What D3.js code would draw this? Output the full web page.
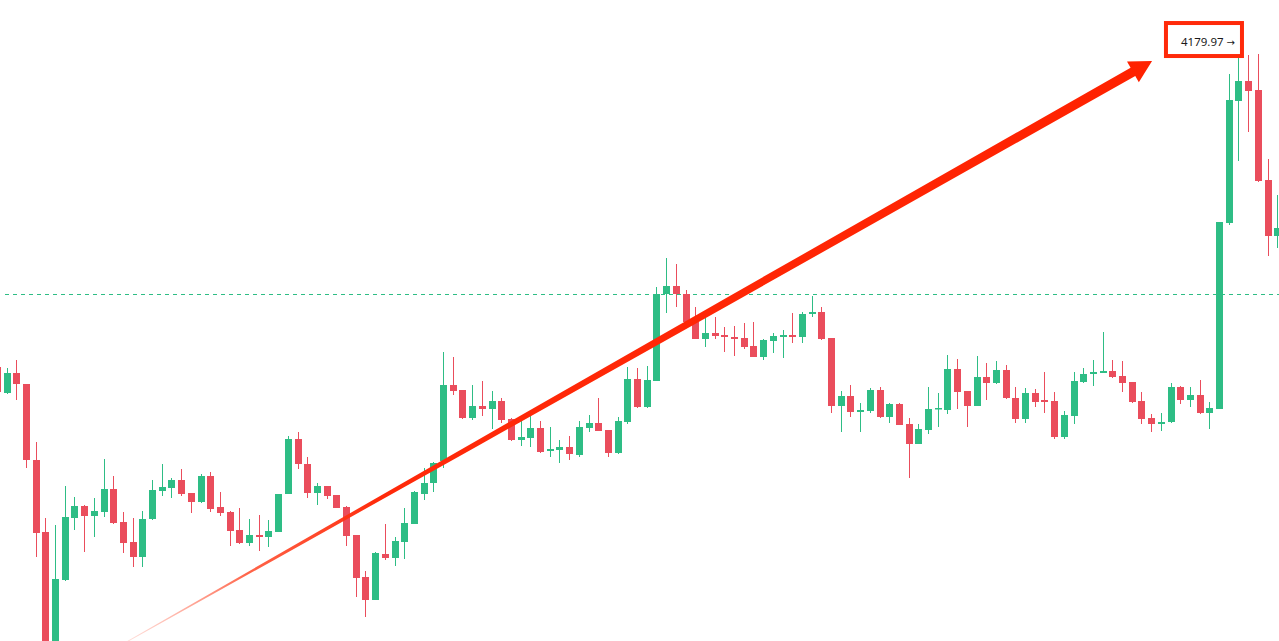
<!DOCTYPE html>
<head>
<meta charset="utf-8">
<script src="https://d3js.org/d3.v7.min.js"></script>
<style>
  body { margin: 0; background: #fff; }
</style>
</head>
<body>
<div id="chart"></div>

<script>
    // candle data, first candle is index -1 (partly off the left edge)
    var firstIndex = -1;
    var opens = [
        3855,3829,3849,3838,3762,3690,3577,3642,3704,3716,
        3706,3710,3733,3700,3680,3665,3703,3731,3734,3742,
        3729,3720,3746,3715,3710,3692,3679,3687,3685,3690,
        3728,3783,3758,3729,3736,3727,3715,3687,3645,3622,
        3668,3664,3680,3698,3728,3739,3761,3837,3832,3804,
        3816,3813,3821,3803,3782,3784,3794,3771,3772,3775,
        3767,3794,3799,3792,3769,3800,3843,3815,3841,3928,
        3936,3928,3900,3883,3889,3887,3885,3884,3876,3865,
        3881,3885,3887,3885,3908,3910,3884,3816,3826,3810,
        3811,3832,3805,3818,3798,3778,3792,3813,3812,3853,
        3831,3816,3845,3839,3852,3824,3803,3829,3822,3821,
        3785,3806,3840,3848,3849,3851,3846,3840,3821,3804,
        3798,3800,3835,3822,3827,3809,3813,3999,4121,4141,
        4132,4042,3986];
    var highs = [
        3857,3854,3862,3838,3780,3704,3697,3736,3725,3717,
        3724,3763,3746,3710,3704,3711,3742,3758,3744,3753,
        3729,3748,3750,3730,3711,3714,3703,3707,3702,3728,
        3786,3790,3765,3739,3736,3727,3716,3687,3651,3670,
        3698,3685,3714,3731,3754,3760,3870,3865,3832,3837,
        3841,3831,3824,3804,3802,3806,3801,3795,3782,3786,
        3801,3807,3824,3792,3805,3855,3854,3856,3935,3964,
        3958,3932,3915,3905,3905,3895,3896,3899,3900,3883,
        3889,3892,3909,3910,3926,3915,3884,3831,3837,3819,
        3834,3835,3819,3819,3804,3798,3835,3829,3867,3863,
        3831,3866,3859,3861,3857,3835,3834,3833,3850,3830,
        3811,3850,3854,3862,3890,3862,3861,3840,3830,3808,
        3809,3839,3836,3835,3842,3820,4000,4148,4166,4167,
        4168,4063,4027];
    var lows = [
        3828,3828,3822,3754,3665,3562,3562,3641,3692,3670,
        3685,3705,3698,3669,3655,3655,3702,3726,3724,3726,
        3709,3719,3710,3706,3676,3678,3676,3671,3675,3690,
        3728,3753,3724,3717,3723,3714,3676,3625,3605,3622,
        3662,3656,3663,3698,3722,3730,3754,3827,3803,3802,
        3806,3793,3799,3781,3776,3775,3769,3765,3759,3762,
        3765,3790,3791,3765,3768,3798,3814,3814,3841,3909,
        3915,3900,3883,3875,3883,3870,3866,3873,3865,3862,
        3869,3864,3879,3879,3905,3882,3809,3790,3805,3790,
        3809,3804,3799,3797,3744,3778,3788,3795,3808,3813,
        3795,3816,3822,3838,3823,3799,3799,3815,3809,3783,
        3783,3798,3839,3836,3849,3844,3830,3819,3798,3790,
        3791,3799,3818,3815,3808,3793,3813,3997,4061,4090,
        4040,3966,3974];
    var closes = [
        3830,3849,3838,3762,3689,3577,3643,3705,3716,3706,
        3711,3733,3699,3679,3665,3703,3732,3735,3742,3728,
        3720,3746,3713,3709,3691,3679,3687,3685,3691,3728,
        3783,3758,3729,3736,3726,3714,3686,3644,3622,3669,
        3664,3681,3699,3730,3739,3759,3837,3831,3804,3816,
        3813,3821,3802,3782,3785,3794,3770,3773,3775,3768,
        3795,3799,3791,3769,3801,3843,3815,3842,3928,3936,
        3928,3900,3883,3889,3886,3885,3883,3875,3865,3882,
        3886,3887,3885,3908,3910,3883,3816,3826,3810,3812,
        3832,3805,3818,3797,3778,3793,3813,3814,3853,3830,
        3816,3845,3839,3852,3824,3803,3829,3820,3820,3785,
        3807,3841,3848,3850,3851,3845,3839,3820,3803,3798,
        3800,3835,3822,3827,3809,3814,4000,4122,4141,4131,
        4041,3986,3994];

    var dashedLevel = 3928;
    var labelValue = 4179.97;
    var labelIndex = 123.45;
    // arrow annotation, in (candle index, price)
    var arrowFrom = {i: 12.0, p: 3578};
    var arrowTo = {i: 118.1, p: 4161};

    var upColor = "#2ebd85",
        downColor = "#ea4d5c",
        markColor = "#ff2a0a";

    var width = 1279, height = 641;

    var data = opens.map(function(o, k) {
        return {i: firstIndex + k, open: o, high: highs[k], low: lows[k], close: closes[k]};
    });

    var svg = d3.select("#chart")
      .append("svg")
        .attr("width", width)
        .attr("height", height)
        .style("display", "block");

    var x = d3.scaleLinear()
        .domain([-1, 131])
        .range([-3.2, 1277.2]);
    var y = d3.scaleLinear()
        .domain([3581, 4222])
        .range([height, 0]);

    var step = x(1) - x(0);
    var bodyW = Math.round(step * 0.72);

    // dashed price level
    svg.append("line")
        .attr("x1", 5).attr("x2", width)
        .attr("y1", Math.round(y(dashedLevel)) + 0.5)
        .attr("y2", Math.round(y(dashedLevel)) + 0.5)
        .attr("stroke", upColor)
        .attr("stroke-width", 1)
        .attr("stroke-dasharray", "4,4");

    var candle = svg.append("g").attr("id", "candles")
      .selectAll("g")
      .data(data)
      .enter()
      .append("g")
        .attr("fill", function(d) { return d.close >= d.open ? upColor : downColor; })
        .attr("stroke", function(d) { return d.close >= d.open ? upColor : downColor; });

    candle.append("line")
        .attr("x1", function(d) { return Math.round(x(d.i)) + 0.5; })
        .attr("x2", function(d) { return Math.round(x(d.i)) + 0.5; })
        .attr("y1", function(d) { return y(d.high); })
        .attr("y2", function(d) { return y(d.low); })
        .attr("stroke-width", 1);

    candle.append("rect")
        .attr("stroke", "none")
        .attr("x", function(d) { return Math.round(x(d.i)) + 0.5 - bodyW / 2; })
        .attr("width", bodyW)
        .attr("y", function(d) { return y(Math.max(d.open, d.close)); })
        .attr("height", function(d) { return Math.max(1.5, Math.abs(y(d.open) - y(d.close))); });

    // tapered arrow
    var tx = x(arrowFrom.i), ty = y(arrowFrom.p),
        px = x(arrowTo.i), py = y(arrowTo.p);
    var len = Math.hypot(px - tx, py - ty),
        ux = (px - tx) / len, uy = (py - ty) / len,
        nx = -uy, ny = ux;
    var headLen = 22, headHalf = 12;
    var sx = px - ux * headLen, sy = py - uy * headLen;
    var taper = [[0, 0.8], [0.15, 2.8], [0.35, 5.2], [0.6, 7.4], [1, 9.5]];
    var left = taper.map(function(t) {
        return [tx + (sx - tx) * t[0] + nx * t[1] / 2, ty + (sy - ty) * t[0] + ny * t[1] / 2];
    });
    var right = taper.map(function(t) {
        return [tx + (sx - tx) * t[0] - nx * t[1] / 2, ty + (sy - ty) * t[0] - ny * t[1] / 2];
    }).reverse();
    var pts = left.concat([[sx + nx * headHalf, sy + ny * headHalf], [px, py],
        [sx - nx * headHalf, sy - ny * headHalf]]).concat(right);

    var grad = svg.append("defs").append("linearGradient")
        .attr("id", "arrowGrad")
        .attr("gradientUnits", "userSpaceOnUse")
        .attr("x1", tx).attr("y1", ty).attr("x2", px).attr("y2", py);
    grad.append("stop").attr("offset", 0).attr("stop-color", "#ff9a8a").attr("stop-opacity", 0.3);
    grad.append("stop").attr("offset", 0.12).attr("stop-color", "#ff4a2a").attr("stop-opacity", 0.85);
    grad.append("stop").attr("offset", 0.25).attr("stop-color", markColor).attr("stop-opacity", 1);
    grad.append("stop").attr("offset", 1).attr("stop-color", "#ff2200").attr("stop-opacity", 1);

    svg.append("polygon")
        .attr("points", pts.map(function(p) { return p.join(","); }).join(" "))
        .attr("fill", "url(#arrowGrad)");

    // value label box
    var lx = x(labelIndex), ly = y(labelValue);
    svg.append("rect")
        .attr("x", lx - 38).attr("y", ly - 19)
        .attr("width", 76).attr("height", 33)
        .attr("fill", "#fff")
        .attr("stroke", markColor)
        .attr("stroke-width", 4);
    var label = svg.append("text")
        .attr("x", lx + 4).attr("y", ly + 4)
        .attr("text-anchor", "middle")
        .attr("font-family", "'Noto Sans', 'Liberation Sans', sans-serif")
        .attr("font-size", 11.5)
        .attr("fill", "#1a1a1a");
    label.append("tspan").text(d3.format(".2f")(labelValue) + " ");
    label.append("tspan")
        .attr("font-family", "'DejaVu Sans', sans-serif")
        .attr("font-size", 10)
        .text("\u2192");
</script>
</body>
